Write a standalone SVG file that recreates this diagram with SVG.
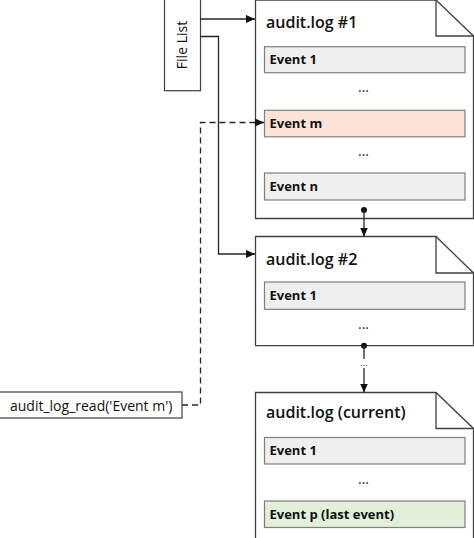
<svg xmlns="http://www.w3.org/2000/svg" width="474" height="538" viewBox="0 0 474 538">
<style>
.doc{fill:#fff;stroke:#404040;stroke-width:1.3}
.fold{fill:none;stroke:#404040;stroke-width:1.3}
.ev{stroke:#7f7f7f;stroke-width:1.2}
.g{fill:#efefef}.m{fill:#fbe4d5}.p{fill:#e2efd9}
.title{font-family:"Open Sans","Liberation Sans",sans-serif;font-weight:600;font-size:16px;fill:#111}
.evt{font-family:"Open Sans","Liberation Sans",sans-serif;font-weight:bold;font-size:13px;fill:#111}
.txt{font-family:"Open Sans","Liberation Sans",sans-serif;font-size:14px;fill:#111}
.dots{font-family:"Open Sans","Liberation Sans",sans-serif;font-size:14px;fill:#222;text-anchor:middle}
.box{fill:#fff;stroke:#404040;stroke-width:1.2}
.c{fill:none;stroke:#262626;stroke-width:1.3}
.dash{stroke-dasharray:6,4}
</style>
<defs>
<marker id="arr" markerWidth="9" markerHeight="8" refX="9" refY="4" orient="auto" markerUnits="userSpaceOnUse">
<path d="M0,0 L9,4 L0,8 Z" fill="#111"/>
</marker>
</defs>

<g id="file-list">
<rect class="box" x="164.5" y="-5" width="36" height="95.7"/>
<text class="txt" text-anchor="middle" transform="translate(187,45) rotate(-90)">File List</text>
</g>

<g id="audit-log-read">
<rect class="box" x="-5" y="392" width="187" height="26"/>
<text class="txt" x="10" y="410.5">audit_log_read('Event m')</text>
</g>

<g id="doc1">
<path class="doc" d="M255.5,0 H436 L473.5,36 V218.5 H255.5 Z"/>
<path class="fold" d="M436,0 V36 H473.5"/>
<text class="title" x="266" y="28">audit.log #1</text>
<rect class="ev g" x="264.5" y="46.7" width="200.5" height="26"/>
<text class="evt" x="269.5" y="64.2">Event 1</text>
<text class="dots" x="363.5" y="92">...</text>
<rect class="ev m" x="264.5" y="110.3" width="200.5" height="26.5"/>
<text class="evt" x="269.5" y="128">Event m</text>
<text class="dots" x="363.5" y="156">...</text>
<rect class="ev g" x="264.5" y="173" width="200.5" height="27"/>
<text class="evt" x="269.5" y="191">Event n</text>
</g>

<g id="doc2">
<path class="doc" d="M255.5,236.5 H436 L473.5,273 V345.7 H255.5 Z"/>
<path class="fold" d="M436,236.5 V273 H473.5"/>
<text class="title" x="266" y="264.5">audit.log #2</text>
<rect class="ev g" x="264.5" y="282" width="200.5" height="27.3"/>
<text class="evt" x="269.5" y="300">Event 1</text>
<text class="dots" x="363.5" y="329">...</text>
</g>

<g id="doc3">
<path class="doc" d="M255.5,392.5 H436 L473.5,428.5 V545 H255.5 Z"/>
<path class="fold" d="M436,392.5 V428.5 H473.5"/>
<text class="title" x="266" y="418">audit.log (current)</text>
<rect class="ev g" x="264.5" y="437.5" width="200.5" height="26.5"/>
<text class="evt" x="269.5" y="455">Event 1</text>
<text class="dots" x="363.5" y="484">...</text>
<rect class="ev p" x="264.5" y="501" width="200.5" height="26.5"/>
<text class="evt" x="269.5" y="518.5">Event p (last event)</text>
</g>

<g id="connectors">
<path class="c" d="M200.5,19 H255" marker-end="url(#arr)"/>
<path class="c" d="M200.5,36.5 H218.5 V254 H255" marker-end="url(#arr)"/>
<path class="c dash" d="M182,405 H200.5 V122.5 H264" marker-end="url(#arr)"/>
<circle cx="364" cy="210" r="3" fill="#111"/>
<path class="c" d="M364,210 V236.5" marker-end="url(#arr)"/>
<circle cx="364" cy="345.7" r="3" fill="#111"/>
<path class="c" d="M364,345.7 V359"/>
<text x="364" y="366" font-family="Open Sans, sans-serif" font-size="9" fill="#222" text-anchor="middle">...</text>
<path class="c" d="M364,368 V392.5" marker-end="url(#arr)"/>
</g>
</svg>
